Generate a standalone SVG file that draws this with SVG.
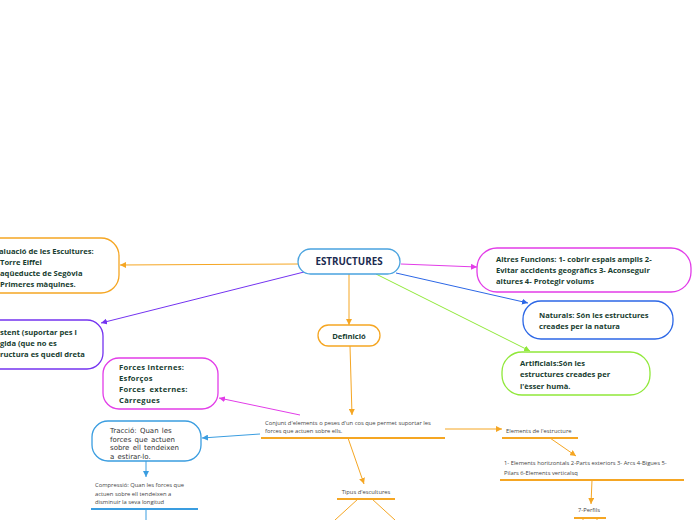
<svg xmlns="http://www.w3.org/2000/svg" width="696" height="520" viewBox="0 0 696 520">
<defs>
<style>
.node{fill:#fff;stroke-width:1.3}
.b{font-family:"Open Sans","Noto Sans",sans-serif;font-weight:bold;font-size:7.6px;fill:#173d30}
.s{font-family:"Open Sans","Noto Sans",sans-serif;font-size:5.8px;fill:#444}
.t{font-family:"DejaVu Sans",sans-serif;font-size:7px;fill:#333;word-spacing:1px}
.c{fill:none;stroke-width:1}
.u{stroke-width:2}
</style>
<marker id="aO" markerWidth="6" markerHeight="6" refX="6" refY="3" orient="auto" markerUnits="userSpaceOnUse"><path d="M0,0L6,3L0,6z" fill="#f5a623"/></marker>
<marker id="aP" markerWidth="6" markerHeight="6" refX="6" refY="3" orient="auto" markerUnits="userSpaceOnUse"><path d="M0,0L6,3L0,6z" fill="#7433f0"/></marker>
<marker id="aM" markerWidth="6" markerHeight="6" refX="6" refY="3" orient="auto" markerUnits="userSpaceOnUse"><path d="M0,0L6,3L0,6z" fill="#e23ce8"/></marker>
<marker id="aL" markerWidth="6" markerHeight="6" refX="6" refY="3" orient="auto" markerUnits="userSpaceOnUse"><path d="M0,0L6,3L0,6z" fill="#3a9de0"/></marker>
<marker id="aB" markerWidth="6" markerHeight="6" refX="6" refY="3" orient="auto" markerUnits="userSpaceOnUse"><path d="M0,0L6,3L0,6z" fill="#2c67e6"/></marker>
<marker id="aG" markerWidth="6" markerHeight="6" refX="6" refY="3" orient="auto" markerUnits="userSpaceOnUse"><path d="M0,0L6,3L0,6z" fill="#90e83a"/></marker>
</defs>
<rect width="696" height="520" fill="#fff"/>

<g id="connectors">
<line class="c" x1="298" y1="264" x2="120" y2="265" stroke="#f5a623" marker-end="url(#aO)"/>
<line class="c" x1="304" y1="272" x2="101" y2="323" stroke="#7433f0" marker-end="url(#aP)"/>
<line class="c" x1="349" y1="274" x2="349" y2="325" stroke="#f5a623" marker-end="url(#aO)"/>
<line class="c" x1="401" y1="264" x2="477" y2="267" stroke="#e23ce8" marker-end="url(#aM)"/>
<line class="c" x1="396" y1="273" x2="528" y2="303" stroke="#2c67e6" marker-end="url(#aB)"/>
<line class="c" x1="376" y1="274" x2="530" y2="351" stroke="#90e83a" marker-end="url(#aG)"/>
<line class="c" x1="350" y1="346" x2="352" y2="415" stroke="#f5a623" marker-end="url(#aO)"/>
<line class="c" x1="300" y1="415" x2="219" y2="398" stroke="#e23ce8" marker-end="url(#aM)"/>
<line class="c" x1="260" y1="434" x2="202" y2="438" stroke="#3a9de0" marker-end="url(#aL)"/>
<line class="c" x1="445" y1="429" x2="502" y2="429" stroke="#f5a623" marker-end="url(#aO)"/>
<line class="c" x1="348" y1="438" x2="364" y2="484" stroke="#f5a623" marker-end="url(#aO)"/>
<line class="c" x1="550" y1="438" x2="576" y2="456" stroke="#f5a623" marker-end="url(#aO)"/>
<line class="c" x1="592" y1="480" x2="591" y2="504" stroke="#f5a623" marker-end="url(#aO)"/>
<line class="c" x1="146" y1="461" x2="146" y2="477" stroke="#3a9de0" marker-end="url(#aL)"/>
<line class="c" x1="146" y1="509" x2="146" y2="520" stroke="#3a9de0"/>
<line class="c" x1="358" y1="499" x2="335" y2="520" stroke="#f5a623"/>
<line class="c" x1="372" y1="499" x2="395" y2="520" stroke="#f5a623"/>
<line class="c" x1="583" y1="518" x2="583" y2="520" stroke="#f5a623"/>
<line class="c" x1="597" y1="518" x2="597" y2="520" stroke="#f5a623"/>
</g>

<g id="estructures">
<rect class="node" x="298" y="249" width="102" height="25" rx="12.5" stroke="#4aa3df"/>
<text x="349" y="265" text-anchor="middle" style="font-family:'Open Sans','Noto Sans',sans-serif;font-weight:bold;font-size:9.8px;fill:#1b2b50">ESTRUCTURES</text>
</g>

<g id="avaluacio">
<rect class="node" x="-40" y="238" width="159" height="55" rx="18" stroke="#f5a623"/>
<text class="b" x="-1" y="254">aluació de les Escultures:</text>
<text class="b" x="0" y="265">Torre Eiffel</text>
<text class="b" x="0" y="276">aqüeducte de Segòvia</text>
<text class="b" x="0" y="287">Primeres màquines.</text>
</g>

<g id="resistent">
<rect class="node" x="-40" y="320" width="143" height="49" rx="16" stroke="#7433f0"/>
<text class="b" x="0" y="335">stent (suportar pes i</text>
<text class="b" x="0" y="346">gida (que no es</text>
<text class="b" x="0" y="357">ructura es quedi dreta</text>
</g>

<g id="definicio">
<rect class="node" x="318" y="325" width="62" height="21" rx="10.5" stroke="#f5a623"/>
<text class="b" x="349" y="338.5" text-anchor="middle">Definició</text>
</g>

<g id="altres">
<rect class="node" x="477" y="248" width="214" height="44" rx="20" stroke="#e23ce8"/>
<text class="b" x="496" y="262">Altres Funcions: 1- cobrir espais amplis 2-</text>
<text class="b" x="496" y="273">Evitar accidents geogràfics 3- Aconseguir</text>
<text class="b" x="496" y="284">altures 4- Protegir volums</text>
</g>

<g id="naturals">
<rect class="node" x="523" y="301" width="150" height="38" rx="18" stroke="#2c67e6"/>
<text class="b" x="539" y="318">Naturals: Són les estructures</text>
<text class="b" x="539" y="329">creades per la natura</text>
</g>

<g id="artificials">
<rect class="node" x="502" y="352" width="148" height="43" rx="20" stroke="#90e83a"/>
<text class="b" x="520" y="366">Artificials:Són les</text>
<text class="b" x="520" y="377">estructures creades per</text>
<text class="b" x="520" y="389">l'èsser humà.</text>
</g>

<g id="forces">
<rect class="node" x="103" y="358" width="115" height="51" rx="16" stroke="#e23ce8"/>
<text class="b" x="119" y="370" style="letter-spacing:0.3px">Forces internes:</text>
<text class="b" x="119" y="381" style="letter-spacing:0.3px">Esforços</text>
<text class="b" x="119" y="392" style="letter-spacing:0.3px;word-spacing:2px">Forces externes:</text>
<text class="b" x="119" y="403" style="letter-spacing:0.3px">Càrregues</text>
</g>

<g id="traccio">
<rect class="node" x="92" y="421" width="109" height="40" rx="16" stroke="#3a9de0"/>
<text class="t" x="110" y="433">Tracció: Quan les</text>
<text class="t" x="110" y="441.5">forces que actuen</text>
<text class="t" x="110" y="450">sobre ell tendeixen</text>
<text class="t" x="110" y="458.5">a estirar-lo.</text>
</g>

<g id="conjunt">
<text class="s" x="265" y="425">Conjunt d'elements o peses d'un cos que permet suportar les</text>
<text class="s" x="265" y="433">forces que actuen sobre ells.</text>
<line class="u" x1="261" y1="438" x2="445" y2="438" stroke="#f5a623"/>
</g>

<g id="elements">
<text class="s" x="506" y="433">Elements de l'estructure</text>
<line class="u" x1="502" y1="438" x2="578" y2="438" stroke="#f5a623"/>
</g>

<g id="llista">
<text class="s" x="504" y="465">1- Elements horitzontals 2-Parts exteriors 3- Arcs 4-Bigues 5-</text>
<text class="s" x="504" y="475">Pilars 6-Elements verticalsq</text>
<line class="u" x1="500" y1="480" x2="684" y2="480" stroke="#f5a623"/>
</g>

<g id="perfils">
<text class="s" x="589" y="512" text-anchor="middle">7-Perfils</text>
<line class="u" x1="574" y1="518" x2="606" y2="518" stroke="#f5a623"/>
</g>

<g id="tipus">
<text class="s" x="366" y="494" text-anchor="middle">Tipus d'escultures</text>
<line class="u" x1="337" y1="499" x2="395" y2="499" stroke="#f5a623"/>
</g>

<g id="compressio">
<text class="s" x="95" y="487">Compressió: Quan les forces que</text>
<text class="s" x="95" y="495.5">actuen sobre ell tendeixen a</text>
<text class="s" x="95" y="504">disminuir la seva longitud</text>
<line class="u" x1="91" y1="509" x2="198" y2="509" stroke="#3a9de0"/>
</g>
</svg>
